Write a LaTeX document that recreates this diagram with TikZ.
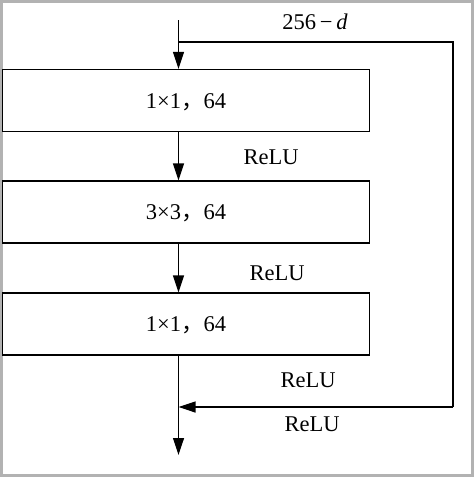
\documentclass[tikz,border=0pt]{standalone}
\usepackage{fontspec}
\setmainfont{Liberation Serif}
\newfontfamily\cjk{Noto Sans CJK SC}
\usetikzlibrary{arrows.meta}
\begin{document}
\begin{tikzpicture}[x=1pt,y=-1pt,
  every node/.style={font=\fontsize{22.5}{27}\selectfont},
  layerbox/.style={draw,line width=1.2pt,minimum width=367pt,minimum height=62pt,inner sep=0pt,anchor=west},
  lbl/.style={inner sep=0pt},
  conn/.style={line width=1.2pt},
  arr/.style={line width=1.2pt,-{Triangle[length=17pt,width=11pt]}}]
\useasboundingbox (0,0) rectangle (474,477);
\fill[white] (0,0) rectangle (474,477);
\draw[gray!60,line width=3pt] (1.5,1.5) rectangle (472.5,475);
% nodes
\node[layerbox] (b1) at (2,100.5) {};
\node[lbl] (t1) at (186,102) {1×1{\cjk ，}64};
\node[layerbox] (b2) at (2,212) {};
\node[lbl] (t2) at (186,213) {3×3{\cjk ，}64};
\node[layerbox] (b3) at (2,324) {};
\node[lbl] (t3) at (186,325) {1×1{\cjk ，}64};
\coordinate (in) at (178.5,20);
\coordinate (j1) at (178.5,42);
\coordinate (r1) at (453,42);
\coordinate (r2) at (453,407);
\coordinate (j2) at (178.5,407);
\coordinate (out) at (178.5,455);
% labels
\node[lbl] (ld) at (315,22) {256\,−\,\textit{d}};
\node[lbl] (l1) at (271,157) {ReLU};
\node[lbl] (l2) at (277,273) {ReLU};
\node[lbl] (l3) at (308,380) {ReLU};
\node[lbl] (l4) at (312,424) {ReLU};
% connectors
\draw[arr] (in) -- (b1.north -| in);
\draw[arr] (b1.south -| in) -- (b2.north -| in);
\draw[arr] (b2.south -| in) -- (b3.north -| in);
\draw[arr] (b3.south -| in) -- (out);
\draw[conn] (j1) -- (r1) -- (r2);
\draw[arr] (r2) -- (j2);
\end{tikzpicture}
\end{document}
